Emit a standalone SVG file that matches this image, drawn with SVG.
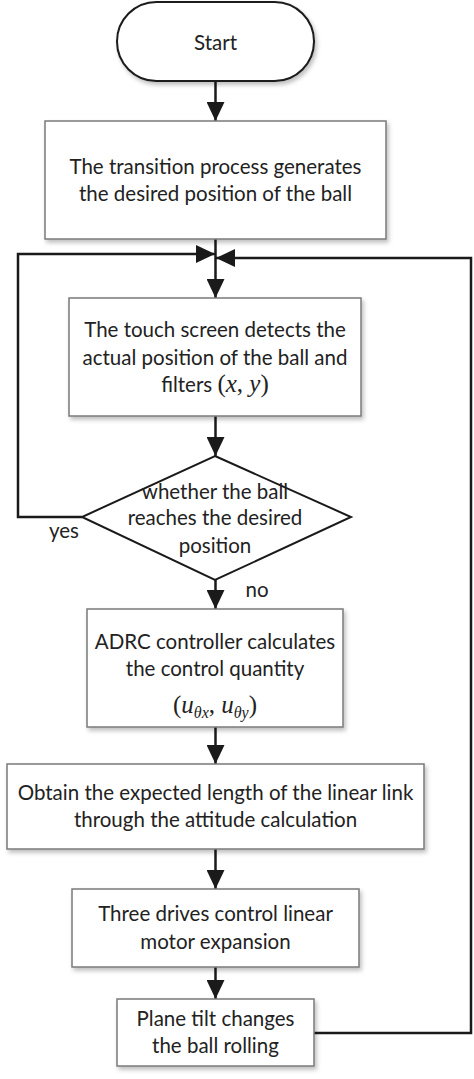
<svg xmlns="http://www.w3.org/2000/svg" width="474" height="1079" viewBox="0 0 474 1079">
<defs>
<marker id="arr" markerUnits="userSpaceOnUse" markerWidth="20" markerHeight="18" refX="19" refY="9" orient="auto">
<path d="M0,0 L19,9 L0,18 z" fill="#1a1a1a"/>
</marker>
<filter id="sh" x="-10%" y="-10%" width="125%" height="130%">
<feDropShadow dx="2" dy="3" stdDeviation="2" flood-color="#000" flood-opacity="0.25"/>
</filter>
<style>
.box{fill:#fff;stroke:#7a7a7a;stroke-width:1.5;filter:url(#sh)}
.term{fill:#fff;stroke:#1a1a1a;stroke-width:2;filter:url(#sh)}
.t{font-family:Lato,"Liberation Sans",sans-serif;font-size:20.5px;fill:#222;text-anchor:middle}
.m{font-family:"Liberation Serif",serif;font-size:25px}
.mi{font-style:italic}
.c{fill:none;stroke:#1a1a1a;stroke-width:2.5;marker-end:url(#arr)}
</style>
</defs>
<g id="connectors">
<line class="c" x1="215.5" y1="81" x2="215.5" y2="121"/>
<line class="c" x1="215.5" y1="239" x2="215.5" y2="298"/>
<path class="c" d="M82,517 H18 V254 H215"/>
<path class="c" d="M314,1033 H471 V258 H216"/>
<line class="c" x1="215.5" y1="416" x2="215.5" y2="456"/>
<line class="c" x1="215.5" y1="580" x2="215.5" y2="609"/>
<line class="c" x1="215.5" y1="727" x2="215.5" y2="764"/>
<line class="c" x1="215.5" y1="849" x2="215.5" y2="889"/>
<line class="c" x1="215.5" y1="967" x2="215.5" y2="999"/>
<text class="t" x="64" y="538">yes</text>
<text class="t" x="257" y="597">no</text>
</g>
<g id="start">
<rect class="term" x="117" y="2" width="197" height="79" rx="39.5" ry="39.5"/>
<text class="t" x="215.5" y="50">Start</text>
</g>
<g id="transition">
<rect class="box" x="45" y="121" width="341" height="118"/>
<text class="t" x="215.5" y="174">The transition process generates</text>
<text class="t" x="215.5" y="201">the desired position of the ball</text>
</g>
<g id="touch">
<rect class="box" x="69" y="298" width="292" height="118"/>
<text class="t" x="215" y="337">The touch screen detects the</text>
<text class="t" x="215" y="365">actual position of the ball and</text>
<text class="t" x="215" y="392">filters <tspan class="m">(<tspan class="mi">x</tspan>, <tspan class="mi">y</tspan>)</tspan></text>
</g>
<g id="decision">
<polygon points="215,456 351,517 215,580 82,517" fill="#fff" stroke="#1a1a1a" stroke-width="2"/>
<text class="t" x="215" y="499">whether the ball</text>
<text class="t" x="215" y="525">reaches the desired</text>
<text class="t" x="215" y="553">position</text>
</g>
<g id="adrc">
<rect class="box" x="87" y="609" width="256" height="118"/>
<text class="t" x="215" y="649">ADRC controller calculates</text>
<text class="t" x="215" y="676">the control quantity</text>
<text class="t m" x="215" y="713">(<tspan class="mi">u</tspan><tspan font-size="16" dy="5"><tspan class="mi">θx</tspan></tspan><tspan dy="-5">, </tspan><tspan class="mi">u</tspan><tspan font-size="16" dy="5"><tspan class="mi">θy</tspan></tspan><tspan dy="-5">)</tspan></text>
</g>
<g id="attitude">
<rect class="box" x="7" y="764" width="417" height="85"/>
<text class="t" x="215.5" y="800">Obtain the expected length of the linear link</text>
<text class="t" x="215.5" y="827">through the attitude calculation</text>
</g>
<g id="drives">
<rect class="box" x="72" y="889" width="287" height="78"/>
<text class="t" x="215.5" y="921">Three drives control linear</text>
<text class="t" x="215.5" y="949">motor expansion</text>
</g>
<g id="tilt">
<rect class="box" x="117" y="999" width="197" height="67"/>
<text class="t" x="215.5" y="1026">Plane tilt changes</text>
<text class="t" x="215.5" y="1053">the ball rolling</text>
</g>
</svg>
